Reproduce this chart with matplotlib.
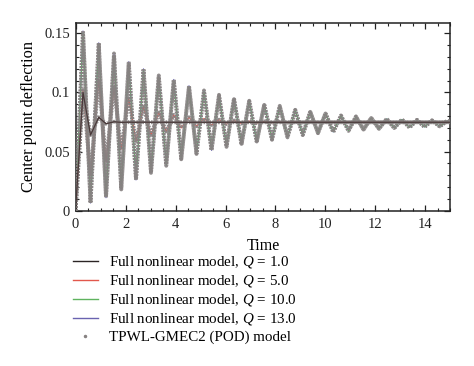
import matplotlib
matplotlib.use('Agg')
import matplotlib.pyplot as plt
from matplotlib.lines import Line2D
from matplotlib.ticker import MultipleLocator, FixedLocator

plt.rcParams['font.family'] = 'Liberation Serif'
plt.rcParams['mathtext.fontset'] = 'custom'
plt.rcParams['mathtext.it'] = 'Liberation Serif:italic'
plt.rcParams['mathtext.rm'] = 'Liberation Serif'

# times of the maxima and minima
peak_times = [0.30, 0.93, 1.54, 2.13, 2.72, 3.33, 3.93, 4.54, 5.14, 5.74,
              6.34, 6.95, 7.55, 8.17, 8.79, 9.39, 10.00, 10.62, 11.22, 11.83,
              12.45, 13.06, 13.66, 14.26, 14.87]
trough_times = [0.60, 1.22, 1.83, 2.42, 3.02, 3.63, 4.23, 4.84, 5.44, 6.04,
                6.64, 7.25, 7.86, 8.48, 9.09, 9.70, 10.31, 10.92, 11.52, 12.14,
                12.75, 13.36, 13.96, 14.57]

# Q = 13.0
q13_peaks = [0.152, 0.142, 0.133, 0.126, 0.120, 0.1144, 0.111, 0.1057, 0.1017, 0.098,
             0.0950, 0.093, 0.090, 0.0887, 0.0853, 0.0839, 0.0825, 0.0805, 0.0797, 0.0785,
             0.0777, 0.0772, 0.0768, 0.0764, 0.0761]
q13_troughs = [0.0065, 0.011, 0.018, 0.026, 0.032, 0.038, 0.0435, 0.048, 0.051, 0.054,
               0.056, 0.058, 0.060, 0.062, 0.064, 0.0656, 0.0665, 0.0675, 0.0684, 0.0692,
               0.0698, 0.0703, 0.0708, 0.0712]

# Q = 10.0
q10_peaks = [0.150, 0.140, 0.131, 0.124, 0.118, 0.1130, 0.1095, 0.1045, 0.1007, 0.097,
             0.0943, 0.0924, 0.0895, 0.0882, 0.0850, 0.0836, 0.0822, 0.0803, 0.0795, 0.0784,
             0.0776, 0.0771, 0.0767, 0.0763, 0.0760]
q10_troughs = [0.0080, 0.0125, 0.0195, 0.0272, 0.0332, 0.0390, 0.0443, 0.0487, 0.0517, 0.0546,
               0.0565, 0.0585, 0.0604, 0.0623, 0.0642, 0.0658, 0.0667, 0.0677, 0.0686, 0.0693,
               0.0699, 0.0704, 0.0709, 0.0713]

# Q = 5.0
q5_peaks = [0.102, 0.111, 0.104, 0.095, 0.088, 0.083, 0.081, 0.079, 0.078, 0.077,
            0.0763, 0.0758, 0.0755, 0.0752, 0.0750, 0.0750, 0.0749, 0.0749, 0.0749, 0.0749,
            0.0749, 0.0749, 0.0749, 0.0749, 0.0749]
q5_troughs = [0.030, 0.0415, 0.052, 0.059, 0.064, 0.067, 0.070, 0.0715, 0.0725, 0.0732,
              0.0737, 0.0740, 0.0743, 0.0745, 0.0747, 0.0747, 0.0748, 0.0748, 0.0748, 0.0748,
              0.0748, 0.0748, 0.0748, 0.0748]

# Q = 1.0
q1_peaks = [0.100, 0.079, 0.0752, 0.0749, 0.0749] + [0.0748] * 20
q1_troughs = [0.064, 0.0735, 0.0747, 0.0748] + [0.0748] * 20

t_start, y_start = 0.0, 0.0
t_end = 15.0
end_values = {'q1': 0.0748, 'q5': 0.0749, 'q10': 0.0752, 'q13': 0.0752}


def build_series(peaks, troughs, end_val):
    t = [t_start]
    y = [y_start]
    for i in range(len(peak_times)):
        t.append(peak_times[i])
        y.append(peaks[i])
        if i < len(trough_times):
            t.append(trough_times[i])
            y.append(troughs[i])
    t.append(t_end)
    y.append(end_val)
    return t, y


series = [
    ('Full nonlinear model, $Q$ = 1.0', '#2b2424', q1_peaks, q1_troughs, end_values['q1']),
    ('Full nonlinear model, $Q$ = 5.0', '#e2574c', q5_peaks, q5_troughs, end_values['q5']),
    ('Full nonlinear model, $Q$ = 10.0', '#5fb35f', q10_peaks, q10_troughs, end_values['q10']),
    ('Full nonlinear model, $Q$ = 13.0', '#6a63b0', q13_peaks, q13_troughs, end_values['q13']),
]

fig = plt.figure(figsize=(4.74, 3.66), dpi=100)
ax = fig.add_axes([0.1593, 0.4243, 0.7911, 0.5137])

gray = '#878282'
# full model lines underneath, reduced model dots on top
for label, col, pk, tr, ev in series[::-1]:
    t, y = build_series(pk, tr, ev)
    ax.plot(t, y, color=col, lw=0.8, zorder=2)
for label, col, pk, tr, ev in series[::-1]:
    t, y = build_series(pk, tr, ev)
    ax.plot(t, y, color=gray, lw=2.8, linestyle=(0, (0.45, 0.3)), alpha=0.9, zorder=3)
# Q = 1 line shows on top of the dots
t, y = build_series(q1_peaks, q1_troughs, end_values['q1'])
ax.plot(t, y, color='#4a3a3a', lw=0.9, zorder=4)

handles = []
for label, col, pk, tr, ev in series:
    handles.append(Line2D([], [], color=col, lw=1.0, label=label))
handles.append(Line2D([], [], color=gray, marker='.', markersize=3, lw=0,
                      label='TPWL-GMEC2 (POD) model'))

ax.set_xlim(0, 15)
ax.set_ylim(0, 0.159)
ax.xaxis.set_major_locator(MultipleLocator(2))
ax.xaxis.set_minor_locator(MultipleLocator(0.5))
ax.yaxis.set_major_locator(FixedLocator([0, 0.05, 0.1, 0.15]))
ax.set_yticklabels(['0', '0.05', '0.1', '0.15'])
ax.yaxis.set_minor_locator(MultipleLocator(0.01))
ax.tick_params(which='both', direction='in', top=True, right=True, labelsize=10.5,
               colors='#222222')
ax.tick_params(axis='x', pad=5)
ax.tick_params(axis='y', pad=4)
ax.tick_params(which='major', length=4, width=0.9)
ax.tick_params(which='minor', length=2.5, width=0.8)
for sp in ax.spines.values():
    sp.set_linewidth(1.1)
    sp.set_color('#222222')

ax.set_xlabel('Time', fontsize=11.5, labelpad=5)
ax.set_ylabel('Center point deflection', fontsize=11.8, labelpad=5)

fig.legend(handles=handles, loc='upper left', bbox_to_anchor=(0.153, 0.305),
           frameon=False, fontsize=10.8, handlelength=1.7, handletextpad=0.75,
           labelspacing=0.2, borderpad=0, borderaxespad=0)

fig.savefig('out.png', dpi=100)
